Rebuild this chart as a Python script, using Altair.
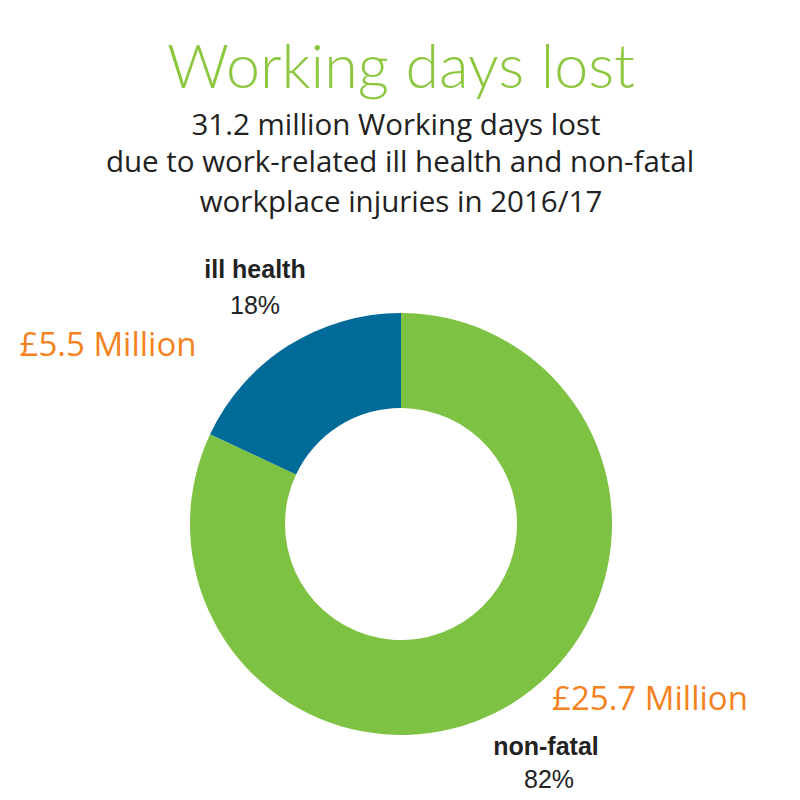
import altair as alt
import pandas as pd

# Data
categories = ["non-fatal", "ill health"]
shares = [82, 18]
share_labels = ["82%", "18%"]
costs = ["£25.7 Million", "£5.5 Million"]
title_text = "Working days lost"
subtitle_lines = [
    "31.2 million Working days lost",
    "due to work-related ill health and non-fatal",
    "workplace injuries in 2016/17",
]

GREEN = "#7dc242"
BLUE = "#006a99"
ORANGE = "#f58220"
DARK = "#222222"
TITLE_GREEN = "#8dc63f"
OFF = 8  # page margin

donut_df = pd.DataFrame({"category": categories, "share": shares, "idx": [0, 1]})

donut = alt.Chart(donut_df).mark_arc(innerRadius=116, outerRadius=211).encode(
    theta=alt.Theta("share:Q", stack=True),
    order=alt.Order("idx:O"),
    color=alt.Color("category:N", scale=alt.Scale(domain=categories, range=[GREEN, BLUE]), legend=None),
    x=alt.value(401 - OFF),
    y=alt.value(524 - OFF),
)


def text_layer(t, x, y, size, color, font, weight="normal"):
    df = pd.DataFrame({"t": [t]})
    return alt.Chart(df).mark_text(
        fontSize=size, color=color, font=font, fontWeight=weight,
        align="center", baseline="alphabetic",
    ).encode(text="t:N", x=alt.value(x - OFF), y=alt.value(y - OFF))


layers = [donut]
layers.append(text_layer(title_text, 401, 88, 61, TITLE_GREEN, "Lato Light, Inter, Lato", 200))
sub_y = [135, 172, 212]
sub_x = [396, 400, 401]
for line, yy, xx in zip(subtitle_lines, sub_y, sub_x):
    layers.append(text_layer(line, xx, yy, 29.5, DARK, "Open Sans"))

# ill health labels
layers.append(text_layer(categories[1], 255, 278, 25, DARK, "Liberation Sans", "bold"))
layers.append(text_layer(share_labels[1], 255, 314, 25, DARK, "Liberation Sans"))
layers.append(text_layer(costs[1], 108, 356, 33, ORANGE, "Open Sans"))
# non-fatal labels
layers.append(text_layer(categories[0], 546, 755, 25, DARK, "Liberation Sans", "bold"))
layers.append(text_layer(share_labels[0], 549, 788, 25, DARK, "Liberation Sans"))
layers.append(text_layer(costs[0], 650, 710, 33, ORANGE, "Open Sans"))

chart = alt.layer(*layers).properties(
    width=784, height=784, autosize=alt.AutoSizeParams(type="none"), padding=0,
    background="white",
).configure_view(stroke=None)

chart.save("out.html", embed_options={"renderer": "svg", "actions": False})
